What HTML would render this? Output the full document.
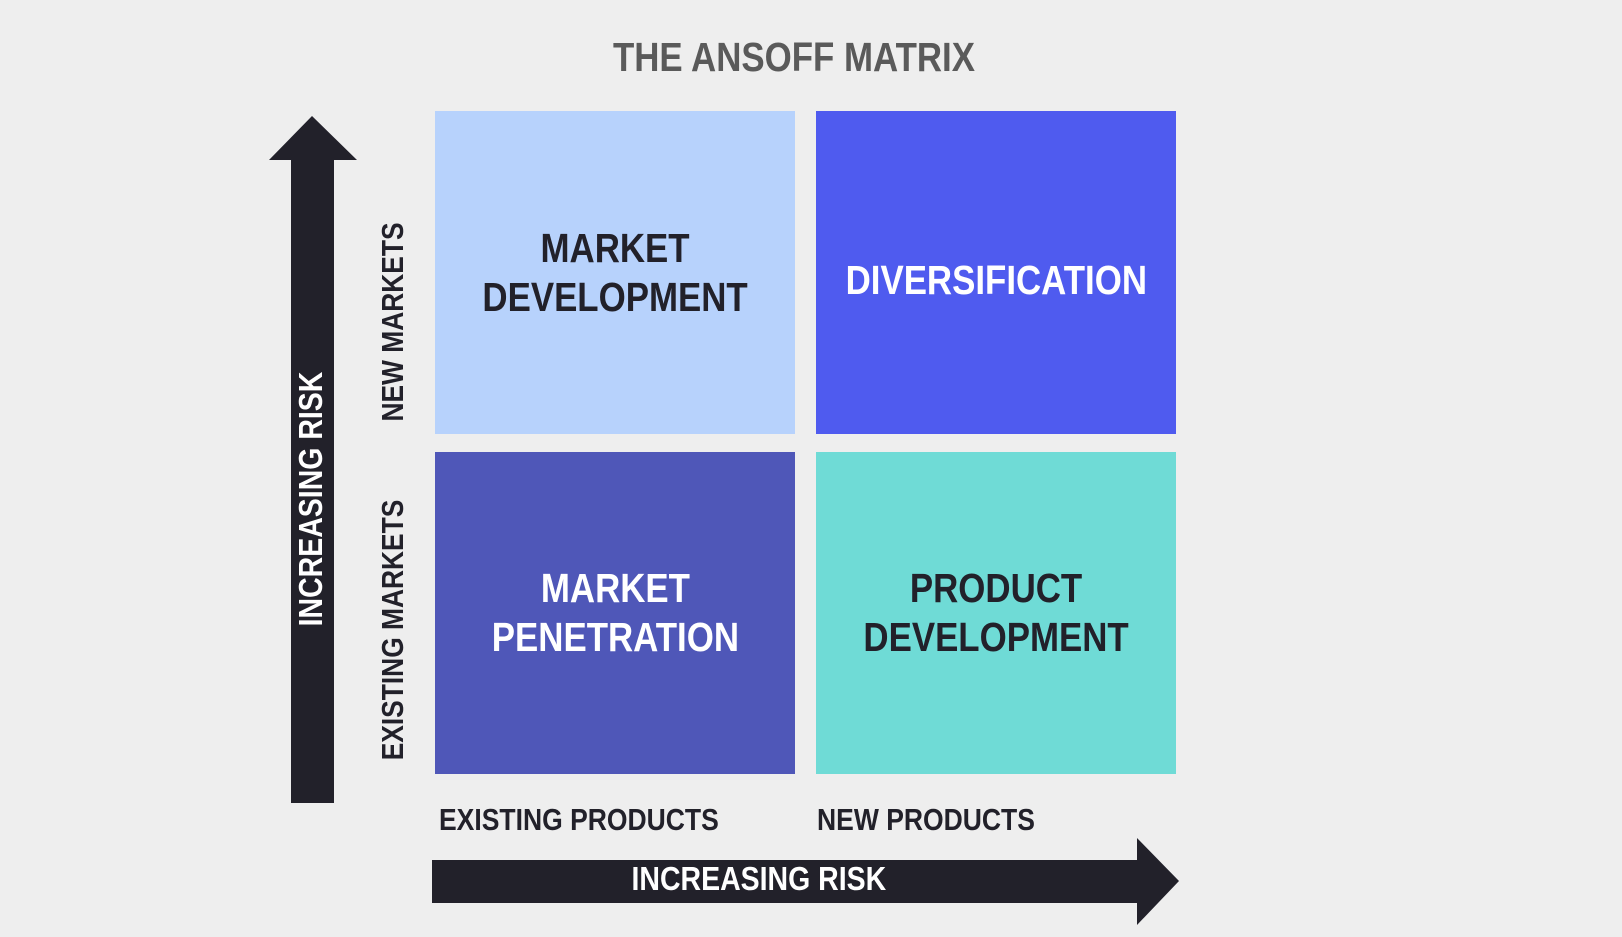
<!DOCTYPE html>
<html><head><meta charset="utf-8"><style>
*{margin:0;padding:0;box-sizing:border-box}
body{width:1622px;height:937px;background:#eeeeee;position:relative;overflow:hidden;font-family:"Liberation Sans Narrow","Liberation Sans",sans-serif;font-weight:bold;color:#22212a}
.abs{position:absolute}
.s{display:inline-block;transform:scaleX(0.85);white-space:nowrap}
.box{position:absolute;display:flex;align-items:center;justify-content:center;text-align:center;font-size:41px;line-height:49px}
.lab{position:absolute;font-size:31px;white-space:nowrap;transform-origin:0 50%;transform:scaleX(0.855)}
.rot{position:absolute;font-size:31px;white-space:nowrap;transform:translate(-50%,-50%) rotate(-90deg) scaleX(0.85)}
</style></head><body>
<div class="abs" style="left:0;width:1588px;top:34px;text-align:center;font-size:41px;color:#5a5a5a"><span class="s">THE ANSOFF MATRIX</span></div>
<div class="box" style="left:435px;top:111px;width:360px;height:323px;background:#b7d2fc"><span class="s">MARKET<br>DEVELOPMENT</span></div>
<div class="box" style="left:816px;top:119px;width:360px;height:323px;color:#fff"><span class="s">DIVERSIFICATION</span></div>
<div class="box" style="left:435px;top:452px;width:360px;height:322px;background:#4f57b8;color:#fff"><span class="s">MARKET<br>PENETRATION</span></div>
<div class="box" style="left:816px;top:452px;width:360px;height:322px;background:#6fdbd6"><span class="s">PRODUCT<br>DEVELOPMENT</span></div>
<svg class="abs" style="left:0;top:0;z-index:-1" width="1622" height="937">
<rect x="816" y="111" width="360" height="323" fill="#4f5bef"/>
<polygon points="291,803 334,803 334,160 357,160 312,116 269,160 291,160" fill="#22212a"/>
<polygon points="432,860 1137,860 1137,838 1179,881 1137,925 1137,903 432,903" fill="#22212a"/>
</svg>
<div class="lab" style="left:439px;top:802px">EXISTING PRODUCTS</div>
<div class="lab" style="left:817px;top:802px">NEW PRODUCTS</div>
<div class="abs" style="left:406px;width:705px;top:861px;text-align:center;color:#fff;font-size:33.5px"><span class="s">INCREASING RISK</span></div>
<div class="rot" style="left:393px;top:322px">NEW MARKETS</div>
<div class="rot" style="left:393px;top:630px">EXISTING MARKETS</div>
<div class="rot" style="left:312px;top:499px;color:#fff;font-size:33.5px">INCREASING RISK</div>
</body></html>
